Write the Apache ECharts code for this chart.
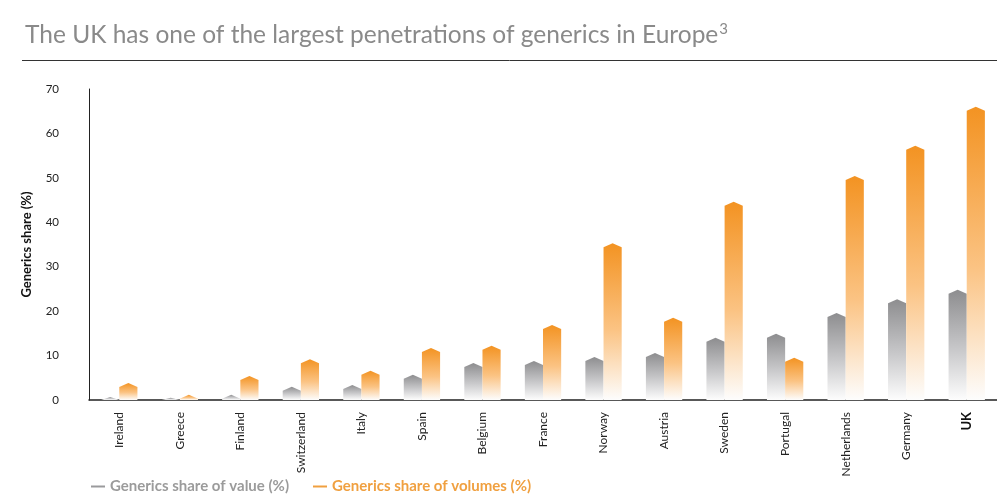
<!DOCTYPE html>
<html>
<head>
<meta charset="utf-8">
<script src="https://cdn.jsdelivr.net/npm/echarts@6/dist/echarts.min.js"></script>
<style>
  html, body { margin: 0; padding: 0; background: #fff; }
  #main { width: 997px; height: 496px; }
</style>
</head>
<body>
<div id="main"></div>
<script>
var countries = ['Ireland', 'Greece', 'Finland', 'Switzerland', 'Italy', 'Spain', 'Belgium', 'France',
  'Norway', 'Austria', 'Sweden', 'Portugal', 'Netherlands', 'Germany', 'UK'];
var shareValue = [0.7, 0.5, 1.2, 3.0, 3.4, 5.7, 8.3, 8.8, 9.7, 10.6, 14.0, 14.9, 19.6, 22.7, 24.8];
var shareVolume = [3.8, 1.2, 5.4, 9.2, 6.6, 11.7, 12.2, 16.9, 35.3, 18.5, 44.6, 9.5, 50.4, 57.2, 66.0];
var yTicks = { min: 0, max: 70, interval: 10 };

var greyTop = '#8d8d8f';
var orangeTop = '#f39322';
var fontFam = 'Lato, "DejaVu Sans", sans-serif';

// bar with a small pointed roof, fading to white at the base
function roofBar(side, topColor, fadeColor) {
  return function (params, api) {
    var idx = api.value(0);
    var base = api.coord([idx, 0]);
    var top = api.coord([idx, api.value(1)]);
    var w = api.size([1, 0])[0] * 0.3;
    var x0 = side < 0 ? base[0] - w : base[0];
    var x1 = x0 + w;
    var shoulder = Math.min(top[1] + 4, base[1]);
    return {
      type: 'polygon',
      shape: {
        points: [[x0, base[1]], [x0, shoulder], [(x0 + x1) / 2, top[1]], [x1, shoulder], [x1, base[1]]]
      },
      style: {
        fill: new echarts.graphic.LinearGradient(0, 0, 0, 1, [
          { offset: 0, color: topColor },
          { offset: 0.55, color: fadeColor },
          { offset: 1, color: '#fdfdfd' }
        ])
      }
    };
  };
}

var chart = echarts.init(document.getElementById('main'));
chart.setOption({
  animation: false,
  textStyle: { fontFamily: fontFam },
  title: {
    text: 'The UK has one of the largest penetrations of generics in Europe{s|3}',
    left: 20,
    top: 17,
    textStyle: {
      color: '#8a8a8a', fontSize: 24.5, fontWeight: 'normal', fontFamily: fontFam,
      rich: { s: { fontSize: 15, color: '#8a8a8a', padding: [0, 0, 11, 1], fontFamily: fontFam } }
    }
  },
  graphic: [{
    type: 'line',
    shape: { x1: 22, y1: 60.5, x2: 997, y2: 60.5 },
    style: { stroke: '#333', lineWidth: 1 }
  }],
  legend: {
    left: 86,
    top: 474,
    itemWidth: 14,
    itemHeight: 2,
    itemGap: 24,
    icon: 'rect',
    data: [
      { name: 'Generics share of value (%)', textStyle: { color: '#9b9b9b' } },
      { name: 'Generics share of volumes (%)', textStyle: { color: '#f0a040' } }
    ],
    textStyle: { fontSize: 15, fontWeight: 'bold', fontFamily: fontFam }
  },
  grid: { left: 89, right: 0, top: 89, bottom: 96 },
  xAxis: {
    type: 'category',
    data: countries,
    axisLine: { lineStyle: { color: '#222', width: 1.5 } },
    axisTick: { show: false },
    axisLabel: {
      rotate: 90,
      interval: 0,
      margin: 12,
      color: '#222',
      fontSize: 12,
      formatter: function (v) { return v === 'UK' ? '{b|UK}' : v; },
      rich: { b: { fontWeight: 'bold', fontSize: 13, color: '#111' } }
    }
  },
  yAxis: {
    type: 'value',
    min: yTicks.min,
    max: yTicks.max,
    interval: yTicks.interval,
    name: 'Generics share (%)',
    nameLocation: 'middle',
    nameGap: 56,
    nameTextStyle: { color: '#111', fontSize: 13, fontWeight: 'bold' },
    axisLine: { show: true, lineStyle: { color: '#222', width: 1 } },
    axisTick: { show: false },
    splitLine: { show: false },
    axisLabel: { color: '#222', fontSize: 11.5, margin: 30 }
  },
  series: [
    {
      name: 'Generics share of value (%)',
      type: 'custom',
      itemStyle: { color: '#9a9a9c' },
      renderItem: roofBar(-1, greyTop, '#c9c9cb'),
      encode: { x: 0, y: 1 },
      data: shareValue.map(function (v, i) { return [i, v]; })
    },
    {
      name: 'Generics share of volumes (%)',
      type: 'custom',
      itemStyle: { color: '#f0a040' },
      renderItem: roofBar(1, orangeTop, '#fbc383'),
      encode: { x: 0, y: 1 },
      data: shareVolume.map(function (v, i) { return [i, v]; })
    }
  ]
});
</script>
</body>
</html>
